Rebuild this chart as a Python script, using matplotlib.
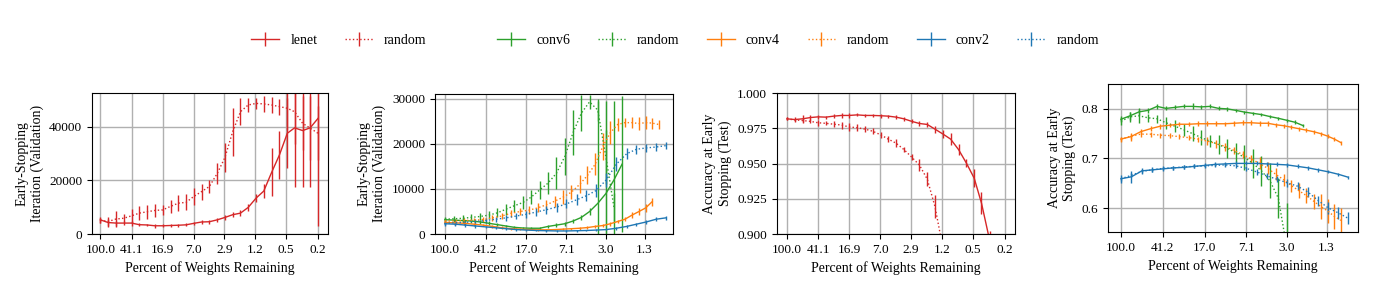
import matplotlib
matplotlib.use("Agg")
import matplotlib.pyplot as plt
from matplotlib.ticker import NullLocator, FormatStrFormatter

plt.rcParams['font.family'] = ['Liberation Serif', 'DejaVu Serif']
plt.rcParams['font.size'] = 9.5

RED = '#d62728'
GREEN = '#2ca02c'
ORANGE = '#ff7f0e'
BLUE = '#1f77b4'

# percent of weights remaining at each pruning round
lenet_pct = [100.0, 80.1, 64.1, 51.3, 41.1, 32.9, 26.4, 21.1, 16.9, 13.5, 10.8, 8.67, 6.94, 5.56,
             4.45, 3.56, 2.85, 2.29, 1.83, 1.47, 1.17, 0.94, 0.75, 0.60, 0.48, 0.39, 0.31, 0.25, 0.20]
conv2_pct = [100.0, 80.1, 64.2, 51.4, 41.2, 33.0, 26.5, 21.2, 17.0, 13.7, 11.0, 8.8, 7.1, 5.7,
             4.6, 3.7, 3.0, 2.4, 1.92, 1.55, 1.25, 1.01, 0.82]
conv4_pct = [100.0, 81.0, 65.8, 53.5, 43.6, 35.6, 29.1, 23.9, 19.6, 16.1, 13.3, 11.0, 9.16, 7.63,
             6.38, 5.34, 4.50, 3.80, 3.21, 2.73, 2.33, 1.99, 1.71, 1.47, 1.27, 1.10, 0.96]
conv6_pct = [100.0, 82.5, 68.1, 56.4, 46.6, 38.6, 32.0, 26.6, 22.0, 18.3, 15.3, 12.7, 10.6, 8.83,
             7.36, 6.15, 5.14, 4.30, 3.60, 3.01, 2.53, 2.12]

lenet_ticks = [100.0, 41.1, 16.9, 7.0, 2.9, 1.2, 0.5, 0.2]
conv_ticks = [100.0, 41.2, 17.0, 7.1, 3.0, 1.3]

# early-stopping iteration (validation)
lenet_iter = [5300, 4300, 4100, 4100, 4100, 3500, 3400, 3100, 3100, 3200, 3300, 3450, 4000, 4500,
              4600, 5300, 6200, 7200, 7800, 9900, 13400, 16000, 23000, 29500, 37500, 39500, 38500, 39500, 43000]
lenet_iter_err = [1200, 1500, 900, 700, 900, 600, 500, 800, 600, 500, 500, 500, 600, 700,
                  800, 800, 800, 1000, 1000, 1200, 1500, 2500, 9000, 9000, 13000, 22000, 21000, 22000, 40000]
lenet_iter_rand = [5100, 4700, 5600, 5900, 6800, 7800, 8300, 8800, 9000, 10300, 11500, 11800, 14000, 15800,
                   17700, 22500, 28500, 38000, 45500, 48000, 48600, 48400, 48000, 47400, 46800, 45500, 41200, 39400, 37500]
lenet_iter_rand_err = [1000, 1500, 3000, 1500, 2500, 2500, 2500, 2500, 2000, 2500, 3000, 3000, 3000, 3000,
                       2500, 4000, 5500, 9000, 5000, 2500, 2000, 3000, 3000, 3000, 8000, 12000, 10000, 12000, 10000]

conv6_iter = [3200, 3100, 3000, 2900, 2700, 2400, 2100, 1800, 1500, 1350, 1300, 1300, 1700, 2000,
              2300, 2900, 3700, 5000, 6800, 9000, 12000, 15500]
conv6_iter_err = [400, 400, 500, 400, 400, 400, 300, 300, 300, 300, 300, 300, 300, 400,
                  400, 500, 600, 700, 22700, 20500, 17500, 15000]
conv6_iter_rand = [3300, 3400, 3500, 3700, 3900, 4200, 4700, 5500, 6300, 7000, 8200, 9800, 11300, 13500,
                   17200, 22500, 26800, 29300, 27500, 17000, 6000]
conv6_iter_rand_err = [500, 600, 800, 700, 800, 900, 1000, 1200, 1300, 1500, 1500, 2000, 2500, 3500,
                       4000, 5000, 4000, 1500, 2500, 6000, 3000]
conv4_iter = [2600, 2500, 2400, 2200, 2000, 1700, 1400, 1200, 1100, 1000, 950, 950, 1000, 1100,
              1200, 1300, 1450, 1700, 1900, 2300, 2800, 3300, 4200, 5000, 5800, 7200]
conv4_iter_err = [400, 400, 400, 300, 300, 300, 300, 200, 200, 200, 200, 200, 200, 200,
                  200, 300, 300, 300, 300, 400, 400, 500, 600, 700, 800, 900]
conv4_iter_rand = [2900, 2900, 3000, 3100, 3200, 3600, 4000, 4600, 5000, 5300, 5800, 6500, 7300, 8200,
                   9300, 11000, 13000, 15500, 19500, 22500, 24300, 24700, 24700, 24500, 24700, 24600, 24300]
conv4_iter_rand_err = [400, 400, 500, 500, 600, 600, 700, 800, 800, 900, 1000, 1000, 1200, 1500,
                       1500, 2000, 2000, 2500, 3000, 2500, 1500, 1000, 1200, 1500, 1500, 1200, 1000]
conv2_iter = [2300, 2200, 2000, 1800, 1600, 1400, 1200, 1000, 900, 800, 750, 700, 700, 750,
              800, 900, 1000, 1300, 1700, 2200, 2700, 3300, 3600]
conv2_iter_err = [400, 400, 400, 400, 300, 300, 300, 300, 200, 200, 200, 200, 200, 200,
                  200, 200, 200, 300, 300, 300, 400, 400, 400]
conv2_iter_rand = [2400, 2500, 2600, 2800, 3000, 3300, 3600, 4000, 4400, 4900, 5400, 6000, 6700, 7600,
                   8500, 9700, 12000, 15500, 17800, 18800, 19100, 19300, 19600]
conv2_iter_rand_err = [400, 500, 500, 500, 600, 600, 600, 700, 800, 800, 900, 1000, 1000, 1200,
                       1200, 1500, 1500, 1500, 1200, 1000, 800, 800, 800]

# accuracy at early stopping (test)
lenet_acc = [0.9818, 0.9813, 0.9818, 0.9827, 0.9832, 0.9830, 0.9837, 0.9842, 0.9842, 0.9846, 0.9842,
             0.9842, 0.9840, 0.9837, 0.9830, 0.9818, 0.9800, 0.9785, 0.9778, 0.9745, 0.9710, 0.9674,
             0.9600, 0.9504, 0.9397, 0.9220, 0.8960]
lenet_acc_err = [0.001, 0.0015, 0.0025, 0.002, 0.0015, 0.001, 0.0015, 0.002, 0.0015, 0.001, 0.001,
                 0.001, 0.0015, 0.001, 0.0015, 0.0015, 0.0015, 0.002, 0.002, 0.0025, 0.003, 0.004,
                 0.004, 0.003, 0.0065, 0.008, 0.006]
lenet_acc_rand = [0.9818, 0.9810, 0.9806, 0.9800, 0.9790, 0.9786, 0.9780, 0.9774, 0.9760, 0.9755, 0.9745,
                  0.9730, 0.9705, 0.9674, 0.9645, 0.9600, 0.9546, 0.9490, 0.9390, 0.9196, 0.8900]
lenet_acc_rand_err = [0.001, 0.001, 0.0015, 0.0015, 0.002, 0.0015, 0.002, 0.0025, 0.003, 0.0025, 0.002,
                      0.002, 0.002, 0.002, 0.003, 0.002, 0.002, 0.004, 0.005, 0.008, 0.01]

conv6_acc = [0.779, 0.786, 0.794, 0.797, 0.805, 0.801, 0.803, 0.805, 0.805, 0.804, 0.805, 0.801, 0.800,
             0.797, 0.7935, 0.791, 0.7885, 0.7845, 0.781, 0.777, 0.773, 0.766]
conv6_acc_err = [0.006, 0.008, 0.006, 0.005, 0.005, 0.004, 0.004, 0.004, 0.006, 0.004, 0.004, 0.004, 0.004,
                 0.003, 0.003, 0.003, 0.003, 0.003, 0.003, 0.003, 0.004, 0.003]
conv6_acc_rand = [0.775, 0.784, 0.786, 0.782, 0.780, 0.772, 0.765, 0.758, 0.750, 0.742, 0.735, 0.728, 0.720,
                  0.712, 0.702, 0.690, 0.675, 0.655, 0.620, 0.520]
conv6_acc_rand_err = [0.008, 0.010, 0.015, 0.008, 0.008, 0.012, 0.012, 0.012, 0.015, 0.015, 0.012, 0.020, 0.020,
                      0.020, 0.025, 0.030, 0.030, 0.035, 0.040, 0.090]
conv4_acc = [0.739, 0.744, 0.754, 0.760, 0.765, 0.767, 0.769, 0.769, 0.770, 0.770, 0.770, 0.770, 0.771, 0.772,
             0.772, 0.771, 0.771, 0.768, 0.766, 0.763, 0.760, 0.757, 0.754, 0.750, 0.745, 0.739, 0.732]
conv4_acc_err = [0.004, 0.008, 0.005, 0.005, 0.005, 0.004, 0.004, 0.004, 0.005, 0.005, 0.005, 0.004, 0.005, 0.005,
                 0.005, 0.005, 0.005, 0.004, 0.004, 0.004, 0.004, 0.004, 0.004, 0.004, 0.004, 0.004, 0.004]
conv4_acc_rand = [0.739, 0.745, 0.749, 0.749, 0.747, 0.746, 0.744, 0.742, 0.739, 0.735, 0.730, 0.724, 0.716, 0.708,
                  0.699, 0.690, 0.680, 0.668, 0.657, 0.645, 0.635, 0.625, 0.614, 0.603, 0.594, 0.583, 0.575]
conv4_acc_rand_err = [0.005, 0.005, 0.005, 0.005, 0.005, 0.005, 0.005, 0.005, 0.005, 0.008, 0.008, 0.008, 0.008, 0.008,
                      0.008, 0.012, 0.012, 0.012, 0.012, 0.012, 0.015, 0.015, 0.015, 0.025, 0.025, 0.025, 0.025]
conv2_acc = [0.659, 0.663, 0.675, 0.677, 0.679, 0.681, 0.682, 0.684, 0.686, 0.688, 0.689, 0.690, 0.690, 0.690,
             0.689, 0.688, 0.687, 0.684, 0.681, 0.677, 0.673, 0.668, 0.662]
conv2_acc_err = [0.008, 0.012, 0.006, 0.005, 0.004, 0.004, 0.004, 0.004, 0.004, 0.004, 0.004, 0.004, 0.004, 0.004,
                 0.004, 0.004, 0.004, 0.004, 0.004, 0.004, 0.003, 0.003, 0.003]
conv2_acc_rand = [0.659, 0.666, 0.674, 0.677, 0.680, 0.681, 0.683, 0.684, 0.685, 0.686, 0.687, 0.685, 0.680, 0.673,
                  0.665, 0.658, 0.651, 0.644, 0.632, 0.615, 0.600, 0.590, 0.579]
conv2_acc_rand_err = [0.004, 0.004, 0.004, 0.004, 0.004, 0.004, 0.004, 0.004, 0.004, 0.004, 0.004, 0.005, 0.005, 0.006,
                      0.006, 0.006, 0.008, 0.008, 0.010, 0.010, 0.012, 0.012, 0.012]


def series(ax, pct, y, err, color, style):
	return ax.errorbar(pct[:len(y)], y, yerr=err, color=color, linestyle=style, linewidth=1.0,
	                   elinewidth=1.0, capsize=0)


def setup(ax, ticks, xlim, ylabel):
	ax.set_xscale('log')
	ax.set_xlim(xlim)
	ax.set_xticks(ticks)
	ax.set_xticklabels(['%.1f' % t for t in ticks])
	ax.xaxis.set_minor_locator(NullLocator())
	ax.set_xlabel('Percent of Weights Remaining', fontsize=10)
	ax.set_ylabel(ylabel, fontsize=10)
	ax.grid(True, color='#b0b0b0', linewidth=1.0)
	ax.set_axisbelow(True)


fig = plt.figure(figsize=(13.8, 2.93), dpi=100)
ax1 = fig.add_axes([0.0667, 0.201, 0.171, 0.481])
ax2 = fig.add_axes([0.3152, 0.201, 0.1725, 0.479])
ax3 = fig.add_axes([0.5630, 0.201, 0.1725, 0.481])
ax4 = fig.add_axes([0.8030, 0.208, 0.1810, 0.505])

# lenet iterations
h_lenet = series(ax1, lenet_pct, lenet_iter, lenet_iter_err, RED, '-')
h_lenet_r = series(ax1, lenet_pct, lenet_iter_rand, lenet_iter_rand_err, RED, ':')
setup(ax1, lenet_ticks, (127, 0.15), 'Early-Stopping\nIteration (Validation)')
ax1.set_ylim(0, 52400)
ax1.set_yticks([0, 20000, 40000])

# conv iterations
h_c6 = series(ax2, conv6_pct, conv6_iter, conv6_iter_err, GREEN, '-')
h_c6r = series(ax2, conv6_pct, conv6_iter_rand, conv6_iter_rand_err, GREEN, ':')
h_c4 = series(ax2, conv4_pct, conv4_iter, conv4_iter_err, ORANGE, '-')
h_c4r = series(ax2, conv4_pct, conv4_iter_rand, conv4_iter_rand_err, ORANGE, ':')
h_c2 = series(ax2, conv2_pct, conv2_iter, conv2_iter_err, BLUE, '-')
h_c2r = series(ax2, conv2_pct, conv2_iter_rand, conv2_iter_rand_err, BLUE, ':')
setup(ax2, conv_ticks, (124, 0.70), 'Early-Stopping\nIteration (Validation)')
ax2.set_ylim(0, 31100)
ax2.set_yticks([0, 10000, 20000, 30000])

# lenet accuracy
series(ax3, lenet_pct, lenet_acc, lenet_acc_err, RED, '-')
series(ax3, lenet_pct, lenet_acc_rand, lenet_acc_rand_err, RED, ':')
setup(ax3, lenet_ticks, (133, 0.15), 'Accuracy at Early\nStopping (Test)')
ax3.set_ylim(0.9, 1.0)
ax3.set_yticks([0.900, 0.925, 0.950, 0.975, 1.000])
ax3.yaxis.set_major_formatter(FormatStrFormatter('%.3f'))

# conv accuracy
series(ax4, conv6_pct, conv6_acc, conv6_acc_err, GREEN, '-')
series(ax4, conv6_pct, conv6_acc_rand, conv6_acc_rand_err, GREEN, ':')
series(ax4, conv4_pct, conv4_acc, conv4_acc_err, ORANGE, '-')
series(ax4, conv4_pct, conv4_acc_rand, conv4_acc_rand_err, ORANGE, ':')
series(ax4, conv2_pct, conv2_acc, conv2_acc_err, BLUE, '-')
series(ax4, conv2_pct, conv2_acc_rand, conv2_acc_rand_err, BLUE, ':')
setup(ax4, conv_ticks, (131, 0.67), 'Accuracy at Early\nStopping (Test)')
ax4.set_ylim(0.5515, 0.85)
ax4.set_yticks([0.6, 0.7, 0.8])
ax4.yaxis.set_major_formatter(FormatStrFormatter('%.1f'))

fig.legend([h_lenet, h_lenet_r], ['lenet', 'random'], loc='center', ncol=2, frameon=False,
           fontsize=10, bbox_to_anchor=(339 / 1380, 0.863))
fig.legend([h_c6, h_c6r, h_c4, h_c4r, h_c2, h_c2r],
           ['conv6', 'random', 'conv4', 'random', 'conv2', 'random'],
           loc='center', ncol=6, frameon=False, fontsize=10, bbox_to_anchor=(798 / 1380, 0.863))

fig.savefig('out.png', dpi=100)
